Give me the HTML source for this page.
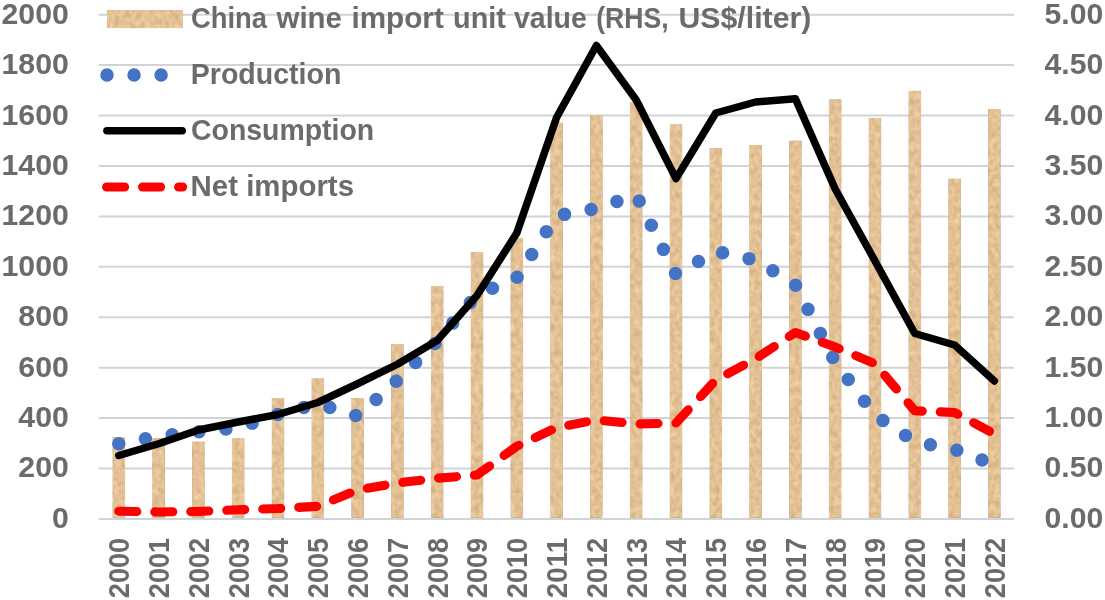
<!DOCTYPE html>
<html lang="en">
<head>
<meta charset="utf-8">
<title>China wine production, consumption and net imports</title>
<style>
html,body{margin:0;padding:0;background:#fff;}
body{width:1105px;height:600px;overflow:hidden;}
svg{display:block;}
text{font-family:"Liberation Sans",sans-serif;font-weight:bold;fill:#6b6b6b;}
.ax{font-size:30.1px;}
.lg{font-size:28.6px;}
.xl{font-size:29.2px;}
</style>
</head>
<body>
<svg width="1105" height="600" viewBox="0 0 1105 600">
<rect x="0" y="0" width="1105" height="600" fill="#ffffff"/>
<defs>
<filter id="tx" x="0" y="0" width="100%" height="100%" color-interpolation-filters="sRGB">
<feTurbulence type="fractalNoise" baseFrequency="0.2 0.16" numOctaves="2" seed="7" result="n"/>
<feColorMatrix in="n" type="matrix" values="1 0 0 0 0  1 0 0 0 0  1 0 0 0 0  0 0 0 0 1" result="g"/>
<feComposite in="SourceGraphic" in2="g" operator="arithmetic" k1="0" k2="1" k3="0.2" k4="-0.1" result="m"/>
<feComposite in="m" in2="SourceAlpha" operator="in"/>
</filter>
</defs>

<g stroke="#d1d3d6" stroke-width="2" fill="none">
<line x1="98.8" y1="468.48" x2="1013.9" y2="468.48"/>
<line x1="98.8" y1="418.06" x2="1013.9" y2="418.06"/>
<line x1="98.8" y1="367.64" x2="1013.9" y2="367.64"/>
<line x1="98.8" y1="317.22" x2="1013.9" y2="317.22"/>
<line x1="98.8" y1="266.80" x2="1013.9" y2="266.80"/>
<line x1="98.8" y1="216.38" x2="1013.9" y2="216.38"/>
<line x1="98.8" y1="165.96" x2="1013.9" y2="165.96"/>
<line x1="98.8" y1="115.54" x2="1013.9" y2="115.54"/>
<line x1="98.8" y1="65.12" x2="1013.9" y2="65.12"/>
<line x1="98.8" y1="14.70" x2="1013.9" y2="14.70"/>
</g>
<g fill="#e3c195" filter="url(#tx)">
<rect x="112.45" y="437.00" width="12.7" height="80.90"/>
<rect x="152.25" y="438.00" width="12.7" height="79.90"/>
<rect x="192.05" y="441.50" width="12.7" height="76.40"/>
<rect x="231.85" y="438.00" width="12.7" height="79.90"/>
<rect x="271.65" y="398.00" width="12.7" height="119.90"/>
<rect x="311.45" y="378.25" width="12.7" height="139.65"/>
<rect x="351.25" y="398.00" width="12.7" height="119.90"/>
<rect x="391.05" y="344.00" width="12.7" height="173.90"/>
<rect x="430.85" y="286.00" width="12.7" height="231.90"/>
<rect x="470.65" y="252.00" width="12.7" height="265.90"/>
<rect x="510.45" y="238.00" width="12.7" height="279.90"/>
<rect x="550.25" y="122.50" width="12.7" height="395.40"/>
<rect x="590.05" y="115.00" width="12.7" height="402.90"/>
<rect x="629.85" y="102.00" width="12.7" height="415.90"/>
<rect x="669.65" y="124.25" width="12.7" height="393.65"/>
<rect x="709.45" y="148.00" width="12.7" height="369.90"/>
<rect x="749.25" y="145.00" width="12.7" height="372.90"/>
<rect x="789.05" y="140.50" width="12.7" height="377.40"/>
<rect x="828.85" y="99.25" width="12.7" height="418.65"/>
<rect x="868.65" y="118.00" width="12.7" height="399.90"/>
<rect x="908.45" y="90.75" width="12.7" height="427.15"/>
<rect x="948.25" y="178.50" width="12.7" height="339.40"/>
<rect x="988.05" y="109.00" width="12.7" height="408.90"/>
<rect x="106.9" y="10" width="75.9" height="18.2"/>
</g>
<line x1="98.8" y1="518.9" x2="1013.9" y2="518.9" stroke="#d1d3d6" stroke-width="2"/>
<g fill="none" stroke="#4472c4" stroke-width="13.5" stroke-linecap="round" stroke-linejoin="round" stroke-dasharray="0 27.05">
<polyline points="118.80,443.80 158.60,436.40 198.40,431.80 238.20,427.80 278.00,414.40 317.80,403.70 357.60,416.20 397.40,380.20 437.20,341.20 477.00,294.80 516.80,277.80 556.60,215.80 596.40,208.60 636.20,195.00 676.00,274.50 715.80,251.30 755.60,260.10 795.40,284.90 835.20,362.20 875.00,415.20 914.80,441.60 954.60,449.40 994.40,464.90"/>
<line x1="107" y1="75" x2="183" y2="75"/>
</g>
<g fill="none" stroke="#000000" stroke-width="7.5" stroke-linecap="round" stroke-linejoin="round">
<polyline points="118.80,455.50 158.60,443.75 198.40,430.00 238.20,422.00 278.00,414.50 317.80,402.50 357.60,383.75 397.40,364.25 437.20,340.50 477.00,295.50 516.80,233.00 556.60,117.50 596.40,45.50 636.20,100.00 676.00,178.60 715.80,113.00 755.60,102.00 795.40,98.75 835.20,189.00 875.00,261.00 914.80,333.50 954.60,345.00 994.40,381.00"/>
<line x1="106.9" y1="130.8" x2="182.2" y2="130.8"/>
</g>
<g fill="none" stroke="#ff0000" stroke-width="9.1" stroke-linecap="round" stroke-linejoin="round" stroke-dasharray="18 18">
<polyline points="118.80,511.20 158.60,512.00 198.40,511.50 238.20,509.80 278.00,508.50 317.80,506.30 357.60,490.00 397.40,483.00 437.20,478.25 477.00,475.00 516.80,446.25 556.60,427.50 596.40,420.00 636.20,424.00 676.00,423.00 715.80,380.00 755.60,358.75 795.40,332.50 835.20,347.00 875.00,363.75 914.80,410.80 954.60,412.50 994.40,434.00"/>
<line x1="106.6" y1="187" x2="182.6" y2="187"/>
</g>
<g class="ax" text-anchor="end">
<text x="68.8" y="528" textLength="16.8" lengthAdjust="spacingAndGlyphs">0</text>
<text x="68.8" y="477" textLength="50.5" lengthAdjust="spacingAndGlyphs">200</text>
<text x="68.8" y="427" textLength="50.5" lengthAdjust="spacingAndGlyphs">400</text>
<text x="68.8" y="377" textLength="50.5" lengthAdjust="spacingAndGlyphs">600</text>
<text x="68.8" y="326" textLength="50.5" lengthAdjust="spacingAndGlyphs">800</text>
<text x="68.8" y="276" textLength="67.3" lengthAdjust="spacingAndGlyphs">1000</text>
<text x="68.8" y="225" textLength="67.3" lengthAdjust="spacingAndGlyphs">1200</text>
<text x="68.8" y="175" textLength="67.3" lengthAdjust="spacingAndGlyphs">1400</text>
<text x="68.8" y="125" textLength="67.3" lengthAdjust="spacingAndGlyphs">1600</text>
<text x="68.8" y="74" textLength="67.3" lengthAdjust="spacingAndGlyphs">1800</text>
<text x="68.8" y="24" textLength="67.3" lengthAdjust="spacingAndGlyphs">2000</text>
</g>
<g class="ax" text-anchor="start">
<text x="1044.5" y="528" textLength="58.7" lengthAdjust="spacingAndGlyphs">0.00</text>
<text x="1044.5" y="477" textLength="58.7" lengthAdjust="spacingAndGlyphs">0.50</text>
<text x="1044.5" y="427" textLength="58.7" lengthAdjust="spacingAndGlyphs">1.00</text>
<text x="1044.5" y="377" textLength="58.7" lengthAdjust="spacingAndGlyphs">1.50</text>
<text x="1044.5" y="326" textLength="58.7" lengthAdjust="spacingAndGlyphs">2.00</text>
<text x="1044.5" y="276" textLength="58.7" lengthAdjust="spacingAndGlyphs">2.50</text>
<text x="1044.5" y="225" textLength="58.7" lengthAdjust="spacingAndGlyphs">3.00</text>
<text x="1044.5" y="175" textLength="58.7" lengthAdjust="spacingAndGlyphs">3.50</text>
<text x="1044.5" y="125" textLength="58.7" lengthAdjust="spacingAndGlyphs">4.00</text>
<text x="1044.5" y="74" textLength="58.7" lengthAdjust="spacingAndGlyphs">4.50</text>
<text x="1044.5" y="24" textLength="58.7" lengthAdjust="spacingAndGlyphs">5.00</text>
</g>
<g class="xl" text-anchor="start">
<text transform="translate(129.20,598.2) rotate(-90)" textLength="60.4" lengthAdjust="spacingAndGlyphs">2000</text>
<text transform="translate(169.00,598.2) rotate(-90)" textLength="60.4" lengthAdjust="spacingAndGlyphs">2001</text>
<text transform="translate(208.80,598.2) rotate(-90)" textLength="60.4" lengthAdjust="spacingAndGlyphs">2002</text>
<text transform="translate(248.60,598.2) rotate(-90)" textLength="60.4" lengthAdjust="spacingAndGlyphs">2003</text>
<text transform="translate(288.40,598.2) rotate(-90)" textLength="60.4" lengthAdjust="spacingAndGlyphs">2004</text>
<text transform="translate(328.20,598.2) rotate(-90)" textLength="60.4" lengthAdjust="spacingAndGlyphs">2005</text>
<text transform="translate(368.00,598.2) rotate(-90)" textLength="60.4" lengthAdjust="spacingAndGlyphs">2006</text>
<text transform="translate(407.80,598.2) rotate(-90)" textLength="60.4" lengthAdjust="spacingAndGlyphs">2007</text>
<text transform="translate(447.60,598.2) rotate(-90)" textLength="60.4" lengthAdjust="spacingAndGlyphs">2008</text>
<text transform="translate(487.40,598.2) rotate(-90)" textLength="60.4" lengthAdjust="spacingAndGlyphs">2009</text>
<text transform="translate(527.20,598.2) rotate(-90)" textLength="60.4" lengthAdjust="spacingAndGlyphs">2010</text>
<text transform="translate(567.00,598.2) rotate(-90)" textLength="60.4" lengthAdjust="spacingAndGlyphs">2011</text>
<text transform="translate(606.80,598.2) rotate(-90)" textLength="60.4" lengthAdjust="spacingAndGlyphs">2012</text>
<text transform="translate(646.60,598.2) rotate(-90)" textLength="60.4" lengthAdjust="spacingAndGlyphs">2013</text>
<text transform="translate(686.40,598.2) rotate(-90)" textLength="60.4" lengthAdjust="spacingAndGlyphs">2014</text>
<text transform="translate(726.20,598.2) rotate(-90)" textLength="60.4" lengthAdjust="spacingAndGlyphs">2015</text>
<text transform="translate(766.00,598.2) rotate(-90)" textLength="60.4" lengthAdjust="spacingAndGlyphs">2016</text>
<text transform="translate(805.80,598.2) rotate(-90)" textLength="60.4" lengthAdjust="spacingAndGlyphs">2017</text>
<text transform="translate(845.60,598.2) rotate(-90)" textLength="60.4" lengthAdjust="spacingAndGlyphs">2018</text>
<text transform="translate(885.40,598.2) rotate(-90)" textLength="60.4" lengthAdjust="spacingAndGlyphs">2019</text>
<text transform="translate(925.20,598.2) rotate(-90)" textLength="60.4" lengthAdjust="spacingAndGlyphs">2020</text>
<text transform="translate(965.00,598.2) rotate(-90)" textLength="60.4" lengthAdjust="spacingAndGlyphs">2021</text>
<text transform="translate(1004.80,598.2) rotate(-90)" textLength="60.4" lengthAdjust="spacingAndGlyphs">2022</text>
</g>
<g class="lg">
<text y="27.5"><tspan x="191.0" textLength="76.0" lengthAdjust="spacingAndGlyphs">China</tspan> <tspan x="276.5" textLength="65.5" lengthAdjust="spacingAndGlyphs">wine</tspan> <tspan x="351.5" textLength="92.3" lengthAdjust="spacingAndGlyphs">import</tspan> <tspan x="453.1" textLength="52.8" lengthAdjust="spacingAndGlyphs">unit</tspan> <tspan x="514.0" textLength="72.8" lengthAdjust="spacingAndGlyphs">value</tspan> <tspan x="596.2" textLength="72.4" lengthAdjust="spacingAndGlyphs">(RHS,</tspan> <tspan x="678.5" textLength="132.8" lengthAdjust="spacingAndGlyphs">US$/liter)</tspan></text>
<text x="190.8" y="84" textLength="150.6" lengthAdjust="spacingAndGlyphs">Production</text>
<text x="191" y="139.8" textLength="183.2" lengthAdjust="spacingAndGlyphs">Consumption</text>
<text x="190.6" y="196" textLength="163.4" lengthAdjust="spacingAndGlyphs">Net imports</text>
</g>
</svg>
</body>
</html>
